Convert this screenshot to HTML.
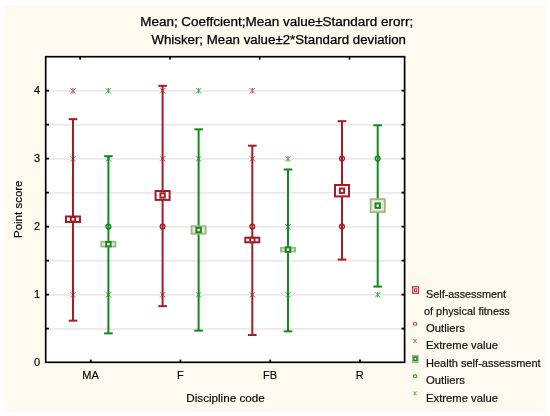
<!DOCTYPE html>
<html><head><meta charset="utf-8"><title>Chart</title>
<style>html,body{margin:0;padding:0;background:#fff;} svg{display:block;}</style>
</head><body>
<svg width="550" height="416" viewBox="0 0 550 416"><rect x="0" y="0" width="550" height="416" fill="#ffffff"/>
<rect x="4.5" y="5.3" width="541.5" height="406.7" fill="#fffaf0"/>
<rect x="45.7" y="56.7" width="358.9" height="305.6" fill="#ffffff"/>
<line x1="47" y1="328.90" x2="404" y2="328.90" stroke="#eaeaea" stroke-width="1.8"/>
<line x1="47" y1="294.90" x2="404" y2="294.90" stroke="#eaeaea" stroke-width="1.8"/>
<line x1="47" y1="260.90" x2="404" y2="260.90" stroke="#eaeaea" stroke-width="1.8"/>
<line x1="47" y1="226.90" x2="404" y2="226.90" stroke="#eaeaea" stroke-width="1.8"/>
<line x1="47" y1="192.90" x2="404" y2="192.90" stroke="#eaeaea" stroke-width="1.8"/>
<line x1="47" y1="158.90" x2="404" y2="158.90" stroke="#eaeaea" stroke-width="1.8"/>
<line x1="47" y1="124.90" x2="404" y2="124.90" stroke="#eaeaea" stroke-width="1.8"/>
<line x1="47" y1="90.90" x2="404" y2="90.90" stroke="#eaeaea" stroke-width="1.8"/>
<line x1="46" y1="328.60" x2="49" y2="328.60" stroke="#000" stroke-width="1.8"/>
<line x1="401.5" y1="328.60" x2="404.5" y2="328.60" stroke="#000" stroke-width="1.8"/>
<line x1="46" y1="294.60" x2="49" y2="294.60" stroke="#000" stroke-width="1.8"/>
<line x1="401.5" y1="294.60" x2="404.5" y2="294.60" stroke="#000" stroke-width="1.8"/>
<line x1="46" y1="260.60" x2="49" y2="260.60" stroke="#000" stroke-width="1.8"/>
<line x1="401.5" y1="260.60" x2="404.5" y2="260.60" stroke="#000" stroke-width="1.8"/>
<line x1="46" y1="226.60" x2="49" y2="226.60" stroke="#000" stroke-width="1.8"/>
<line x1="401.5" y1="226.60" x2="404.5" y2="226.60" stroke="#000" stroke-width="1.8"/>
<line x1="46" y1="192.60" x2="49" y2="192.60" stroke="#000" stroke-width="1.8"/>
<line x1="401.5" y1="192.60" x2="404.5" y2="192.60" stroke="#000" stroke-width="1.8"/>
<line x1="46" y1="158.60" x2="49" y2="158.60" stroke="#000" stroke-width="1.8"/>
<line x1="401.5" y1="158.60" x2="404.5" y2="158.60" stroke="#000" stroke-width="1.8"/>
<line x1="46" y1="124.60" x2="49" y2="124.60" stroke="#000" stroke-width="1.8"/>
<line x1="401.5" y1="124.60" x2="404.5" y2="124.60" stroke="#000" stroke-width="1.8"/>
<line x1="46" y1="90.60" x2="49" y2="90.60" stroke="#000" stroke-width="1.8"/>
<line x1="401.5" y1="90.60" x2="404.5" y2="90.60" stroke="#000" stroke-width="1.8"/>
<line x1="90.8" y1="359.6" x2="90.8" y2="362" stroke="#000" stroke-width="1.8"/>
<line x1="180.4" y1="359.6" x2="180.4" y2="362" stroke="#000" stroke-width="1.8"/>
<line x1="270.2" y1="359.6" x2="270.2" y2="362" stroke="#000" stroke-width="1.8"/>
<line x1="359.9" y1="359.6" x2="359.9" y2="362" stroke="#000" stroke-width="1.8"/>
<line x1="80.2" y1="57" x2="80.2" y2="59.6" stroke="#000" stroke-width="1.8"/>
<line x1="170.0" y1="57" x2="170.0" y2="59.6" stroke="#000" stroke-width="1.8"/>
<line x1="259.7" y1="57" x2="259.7" y2="59.6" stroke="#000" stroke-width="1.8"/>
<line x1="349.5" y1="57" x2="349.5" y2="59.6" stroke="#000" stroke-width="1.8"/>
<path d="M70.30 88.10L75.70 93.50M75.70 88.10L70.30 93.50" stroke="#d05a6a" stroke-width="1.0" fill="none"/><path d="M73.00 88.10L73.00 93.50" stroke="#d05a6a" stroke-width="1.30" fill="none"/>
<path d="M70.30 156.10L75.70 161.50M75.70 156.10L70.30 161.50" stroke="#d05a6a" stroke-width="1.0" fill="none"/><path d="M73.00 156.10L73.00 161.50" stroke="#d05a6a" stroke-width="1.30" fill="none"/>
<path d="M70.30 292.10L75.70 297.50M75.70 292.10L70.30 297.50" stroke="#d05a6a" stroke-width="1.0" fill="none"/><path d="M73.00 292.10L73.00 297.50" stroke="#d05a6a" stroke-width="1.30" fill="none"/>
<line x1="73.0" y1="119.16" x2="73.0" y2="320.64" stroke="#a51d24" stroke-width="2"/>
<line x1="68.70" y1="119.16" x2="77.30" y2="119.16" stroke="#a51d24" stroke-width="2"/>
<line x1="68.70" y1="320.64" x2="77.30" y2="320.64" stroke="#a51d24" stroke-width="2"/>
<rect x="66.00" y="216.50" width="14" height="5.50" fill="#fff" stroke="#a51d24" stroke-width="2"/>
<rect x="70.80" y="217.05" width="4.4" height="4.4" fill="#fff" stroke="#a51d24" stroke-width="2"/>
<path d="M105.70 88.10L111.10 93.50M111.10 88.10L105.70 93.50" stroke="#4aaa50" stroke-width="1.0" fill="none"/><path d="M108.40 88.10L108.40 93.50" stroke="#4aaa50" stroke-width="1.30" fill="none"/>
<path d="M105.70 156.10L111.10 161.50M111.10 156.10L105.70 161.50" stroke="#4aaa50" stroke-width="1.0" fill="none"/><path d="M108.40 156.10L108.40 161.50" stroke="#4aaa50" stroke-width="1.30" fill="none"/>
<path d="M105.70 292.10L111.10 297.50M111.10 292.10L105.70 297.50" stroke="#4aaa50" stroke-width="1.0" fill="none"/><path d="M108.40 292.10L108.40 297.50" stroke="#4aaa50" stroke-width="1.30" fill="none"/>
<line x1="108.4" y1="156.22" x2="108.4" y2="333.36" stroke="#12891a" stroke-width="2"/>
<line x1="104.10" y1="156.22" x2="112.70" y2="156.22" stroke="#12891a" stroke-width="2"/>
<line x1="104.10" y1="333.36" x2="112.70" y2="333.36" stroke="#12891a" stroke-width="2"/>
<circle cx="108.4" cy="226.60" r="2.4" fill="none" stroke="#12891a" stroke-width="1.35"/>
<rect x="101.40" y="241.80" width="14" height="4.70" fill="#e9f2de" stroke="#a3b48f" stroke-width="2"/>
<rect x="102.90" y="243.30" width="11" height="1.70" fill="none" stroke="#d3e5bd" stroke-width="1"/>
<rect x="106.20" y="241.95" width="4.4" height="4.4" fill="#fff" stroke="#12891a" stroke-width="2"/>
<path d="M159.90 88.10L165.30 93.50M165.30 88.10L159.90 93.50" stroke="#d05a6a" stroke-width="1.0" fill="none"/><path d="M162.60 88.10L162.60 93.50" stroke="#d05a6a" stroke-width="1.30" fill="none"/>
<path d="M159.90 156.10L165.30 161.50M165.30 156.10L159.90 161.50" stroke="#d05a6a" stroke-width="1.0" fill="none"/><path d="M162.60 156.10L162.60 161.50" stroke="#d05a6a" stroke-width="1.30" fill="none"/>
<path d="M159.90 292.10L165.30 297.50M165.30 292.10L159.90 297.50" stroke="#d05a6a" stroke-width="1.0" fill="none"/><path d="M162.60 292.10L162.60 297.50" stroke="#d05a6a" stroke-width="1.30" fill="none"/>
<line x1="162.6" y1="85.84" x2="162.6" y2="306.16" stroke="#a51d24" stroke-width="2"/>
<line x1="158.30" y1="85.84" x2="166.90" y2="85.84" stroke="#a51d24" stroke-width="2"/>
<line x1="158.30" y1="306.16" x2="166.90" y2="306.16" stroke="#a51d24" stroke-width="2"/>
<circle cx="162.6" cy="226.60" r="2.4" fill="none" stroke="#a51d24" stroke-width="1.35"/>
<rect x="155.60" y="191.00" width="14" height="8.90" fill="#fff" stroke="#a51d24" stroke-width="2"/>
<rect x="160.40" y="193.25" width="4.4" height="4.4" fill="#fff" stroke="#a51d24" stroke-width="2"/>
<path d="M195.90 88.10L201.30 93.50M201.30 88.10L195.90 93.50" stroke="#4aaa50" stroke-width="1.0" fill="none"/><path d="M198.60 88.10L198.60 93.50" stroke="#4aaa50" stroke-width="1.30" fill="none"/>
<path d="M195.90 156.10L201.30 161.50M201.30 156.10L195.90 161.50" stroke="#4aaa50" stroke-width="1.0" fill="none"/><path d="M198.60 156.10L198.60 161.50" stroke="#4aaa50" stroke-width="1.30" fill="none"/>
<path d="M195.90 292.10L201.30 297.50M201.30 292.10L195.90 297.50" stroke="#4aaa50" stroke-width="1.0" fill="none"/><path d="M198.60 292.10L198.60 297.50" stroke="#4aaa50" stroke-width="1.30" fill="none"/>
<line x1="198.6" y1="129.36" x2="198.6" y2="330.64" stroke="#12891a" stroke-width="2"/>
<line x1="194.30" y1="129.36" x2="202.90" y2="129.36" stroke="#12891a" stroke-width="2"/>
<line x1="194.30" y1="330.64" x2="202.90" y2="330.64" stroke="#12891a" stroke-width="2"/>
<rect x="191.60" y="226.30" width="14" height="7.40" fill="#e9f2de" stroke="#a3b48f" stroke-width="2"/>
<rect x="193.10" y="227.80" width="11" height="4.40" fill="none" stroke="#d3e5bd" stroke-width="1"/>
<rect x="196.40" y="227.80" width="4.4" height="4.4" fill="#fff" stroke="#12891a" stroke-width="2"/>
<path d="M249.60 88.10L255.00 93.50M255.00 88.10L249.60 93.50" stroke="#d05a6a" stroke-width="1.0" fill="none"/><path d="M252.30 88.10L252.30 93.50" stroke="#d05a6a" stroke-width="1.30" fill="none"/>
<path d="M249.60 156.10L255.00 161.50M255.00 156.10L249.60 161.50" stroke="#d05a6a" stroke-width="1.0" fill="none"/><path d="M252.30 156.10L252.30 161.50" stroke="#d05a6a" stroke-width="1.30" fill="none"/>
<path d="M249.60 292.10L255.00 297.50M255.00 292.10L249.60 297.50" stroke="#d05a6a" stroke-width="1.0" fill="none"/><path d="M252.30 292.10L252.30 297.50" stroke="#d05a6a" stroke-width="1.30" fill="none"/>
<line x1="252.3" y1="145.68" x2="252.3" y2="334.99" stroke="#a51d24" stroke-width="2"/>
<line x1="248.00" y1="145.68" x2="256.60" y2="145.68" stroke="#a51d24" stroke-width="2"/>
<line x1="248.00" y1="334.99" x2="256.60" y2="334.99" stroke="#a51d24" stroke-width="2"/>
<circle cx="252.3" cy="226.60" r="2.4" fill="none" stroke="#a51d24" stroke-width="1.35"/>
<rect x="245.30" y="237.70" width="14" height="4.60" fill="#fff" stroke="#a51d24" stroke-width="2"/>
<rect x="250.10" y="237.80" width="4.4" height="4.4" fill="#fff" stroke="#a51d24" stroke-width="2"/>
<path d="M285.30 156.10L290.70 161.50M290.70 156.10L285.30 161.50" stroke="#4aaa50" stroke-width="1.0" fill="none"/><path d="M288.00 156.10L288.00 161.50" stroke="#4aaa50" stroke-width="1.30" fill="none"/>
<path d="M285.30 224.10L290.70 229.50M290.70 224.10L285.30 229.50" stroke="#4aaa50" stroke-width="1.0" fill="none"/><path d="M288.00 224.10L288.00 229.50" stroke="#4aaa50" stroke-width="1.30" fill="none"/>
<path d="M285.30 292.10L290.70 297.50M290.70 292.10L285.30 297.50" stroke="#4aaa50" stroke-width="1.0" fill="none"/><path d="M288.00 292.10L288.00 297.50" stroke="#4aaa50" stroke-width="1.30" fill="none"/>
<line x1="288.0" y1="169.48" x2="288.0" y2="331.32" stroke="#12891a" stroke-width="2"/>
<line x1="283.70" y1="169.48" x2="292.30" y2="169.48" stroke="#12891a" stroke-width="2"/>
<line x1="283.70" y1="331.32" x2="292.30" y2="331.32" stroke="#12891a" stroke-width="2"/>
<rect x="281.00" y="247.80" width="14" height="3.70" fill="#e9f2de" stroke="#a3b48f" stroke-width="2"/>
<rect x="282.50" y="249.30" width="11" height="0.70" fill="none" stroke="#d3e5bd" stroke-width="1"/>
<rect x="285.80" y="247.45" width="4.4" height="4.4" fill="#fff" stroke="#12891a" stroke-width="2"/>
<line x1="342.0" y1="121.20" x2="342.0" y2="259.58" stroke="#a51d24" stroke-width="2"/>
<line x1="337.70" y1="121.20" x2="346.30" y2="121.20" stroke="#a51d24" stroke-width="2"/>
<line x1="337.70" y1="259.58" x2="346.30" y2="259.58" stroke="#a51d24" stroke-width="2"/>
<circle cx="342.0" cy="158.60" r="2.4" fill="none" stroke="#a51d24" stroke-width="1.35"/>
<circle cx="342.0" cy="226.60" r="2.4" fill="none" stroke="#a51d24" stroke-width="1.35"/>
<rect x="335.00" y="185.00" width="14" height="11.40" fill="#fff" stroke="#a51d24" stroke-width="2"/>
<rect x="339.80" y="188.50" width="4.4" height="4.4" fill="#fff" stroke="#a51d24" stroke-width="2"/>
<path d="M375.00 292.10L380.40 297.50M380.40 292.10L375.00 297.50" stroke="#4aaa50" stroke-width="1.0" fill="none"/><path d="M377.70 292.10L377.70 297.50" stroke="#4aaa50" stroke-width="1.30" fill="none"/>
<line x1="377.7" y1="125.28" x2="377.7" y2="286.58" stroke="#12891a" stroke-width="2"/>
<line x1="373.40" y1="125.28" x2="382.00" y2="125.28" stroke="#12891a" stroke-width="2"/>
<line x1="373.40" y1="286.58" x2="382.00" y2="286.58" stroke="#12891a" stroke-width="2"/>
<circle cx="377.7" cy="158.60" r="2.4" fill="none" stroke="#12891a" stroke-width="1.35"/>
<rect x="370.70" y="199.20" width="14" height="12.90" fill="#e9f2de" stroke="#a3b48f" stroke-width="2"/>
<rect x="372.20" y="200.70" width="11" height="9.90" fill="none" stroke="#d3e5bd" stroke-width="1"/>
<rect x="375.50" y="203.45" width="4.4" height="4.4" fill="#fff" stroke="#12891a" stroke-width="2"/>
<rect x="45.7" y="56.7" width="358.9" height="305.6" fill="none" stroke="#000" stroke-width="1.7"/>
<g font-family="'Liberation Sans', Arial, sans-serif" fill="#000" stroke="#000" stroke-width="0.25">
<text x="140.2" y="26.1" font-size="12" text-anchor="start" textLength="273" lengthAdjust="spacingAndGlyphs">Mean; Coeffcient;Mean value±Standard erorr;</text>
<text x="151.4" y="43.8" font-size="12" text-anchor="start" textLength="254.6" lengthAdjust="spacingAndGlyphs">Whisker; Mean value±2*Standard deviation</text>
<text x="40" y="365.8" font-size="11" text-anchor="end" stroke-width="0.15">0</text>
<text x="40" y="297.8" font-size="11" text-anchor="end" stroke-width="0.15">1</text>
<text x="40" y="229.8" font-size="11" text-anchor="end" stroke-width="0.15">2</text>
<text x="40" y="161.8" font-size="11" text-anchor="end" stroke-width="0.15">3</text>
<text x="40" y="93.80000000000003" font-size="11" text-anchor="end" stroke-width="0.15">4</text>
<text x="90.60000000000001" y="379.1" font-size="11" text-anchor="middle" stroke-width="0.15">MA</text>
<text x="180.29999999999998" y="379.1" font-size="11" text-anchor="middle" stroke-width="0.15">F</text>
<text x="270.09999999999997" y="379.1" font-size="11" text-anchor="middle" stroke-width="0.15">FB</text>
<text x="359.8" y="379.1" font-size="11" text-anchor="middle" stroke-width="0.15">R</text>
<text x="186.3" y="401.8" font-size="11.4" text-anchor="start" textLength="78.4" lengthAdjust="spacingAndGlyphs" stroke-width="0.15">Discipline code</text>
<text transform="translate(21.5 238) rotate(-90)" font-size="11.4" stroke-width="0.15" textLength="57.5" lengthAdjust="spacingAndGlyphs">Point score</text>
</g>
<g font-family="'Liberation Sans', Arial, sans-serif" fill="#111" stroke="#111" stroke-width="0.2">
<text x="426" y="298" font-size="11.3" text-anchor="start" textLength="80" lengthAdjust="spacingAndGlyphs">Self-assessment</text>
<text x="424" y="315" font-size="11.3" text-anchor="start" textLength="85.8" lengthAdjust="spacingAndGlyphs">of physical fitness</text>
<text x="426" y="331.6" font-size="11.3" text-anchor="start" textLength="39" lengthAdjust="spacingAndGlyphs">Outliers</text>
<text x="426" y="349.3" font-size="11.3" text-anchor="start" textLength="72" lengthAdjust="spacingAndGlyphs">Extreme value</text>
<text x="426" y="366.6" font-size="11.3" text-anchor="start" textLength="114.7" lengthAdjust="spacingAndGlyphs">Health self-assessment</text>
<text x="426" y="384" font-size="11.3" text-anchor="start" textLength="39" lengthAdjust="spacingAndGlyphs">Outliers</text>
<text x="426" y="401.6" font-size="11.3" text-anchor="start" textLength="72" lengthAdjust="spacingAndGlyphs">Extreme value</text>
</g>
<rect x="412.7" y="286.7" width="5.8" height="6.6" fill="#fff" stroke="#c03a4c" stroke-width="1.3"/>
<rect x="414.5" y="288.8" width="2.2" height="2.6" fill="#fff" stroke="#c03a4c" stroke-width="1.1"/>
<ellipse cx="415.1" cy="323.9" rx="1.8" ry="1.4" fill="none" stroke="#c03a4c" stroke-width="1.1"/>
<path d="M413.10 339.00L416.90 342.80M416.90 339.00L413.10 342.80" stroke="#d87080" stroke-width="0.9" fill="none"/><path d="M415.00 339.00L415.00 342.80" stroke="#d87080" stroke-width="1.17" fill="none"/>
<rect x="412.6" y="355.4" width="5.6" height="7" fill="#dfeccf" stroke="#9fb08a" stroke-width="1"/>
<rect x="413.9" y="357.0" width="3.0" height="3.6" fill="#fff" stroke="#12891a" stroke-width="1.5"/>
<ellipse cx="415.1" cy="376.3" rx="1.8" ry="1.4" fill="none" stroke="#2a9a30" stroke-width="1.1"/>
<path d="M413.10 391.40L416.90 395.20M416.90 391.40L413.10 395.20" stroke="#60b868" stroke-width="0.9" fill="none"/><path d="M415.00 391.40L415.00 395.20" stroke="#60b868" stroke-width="1.17" fill="none"/></svg>
</body></html>
